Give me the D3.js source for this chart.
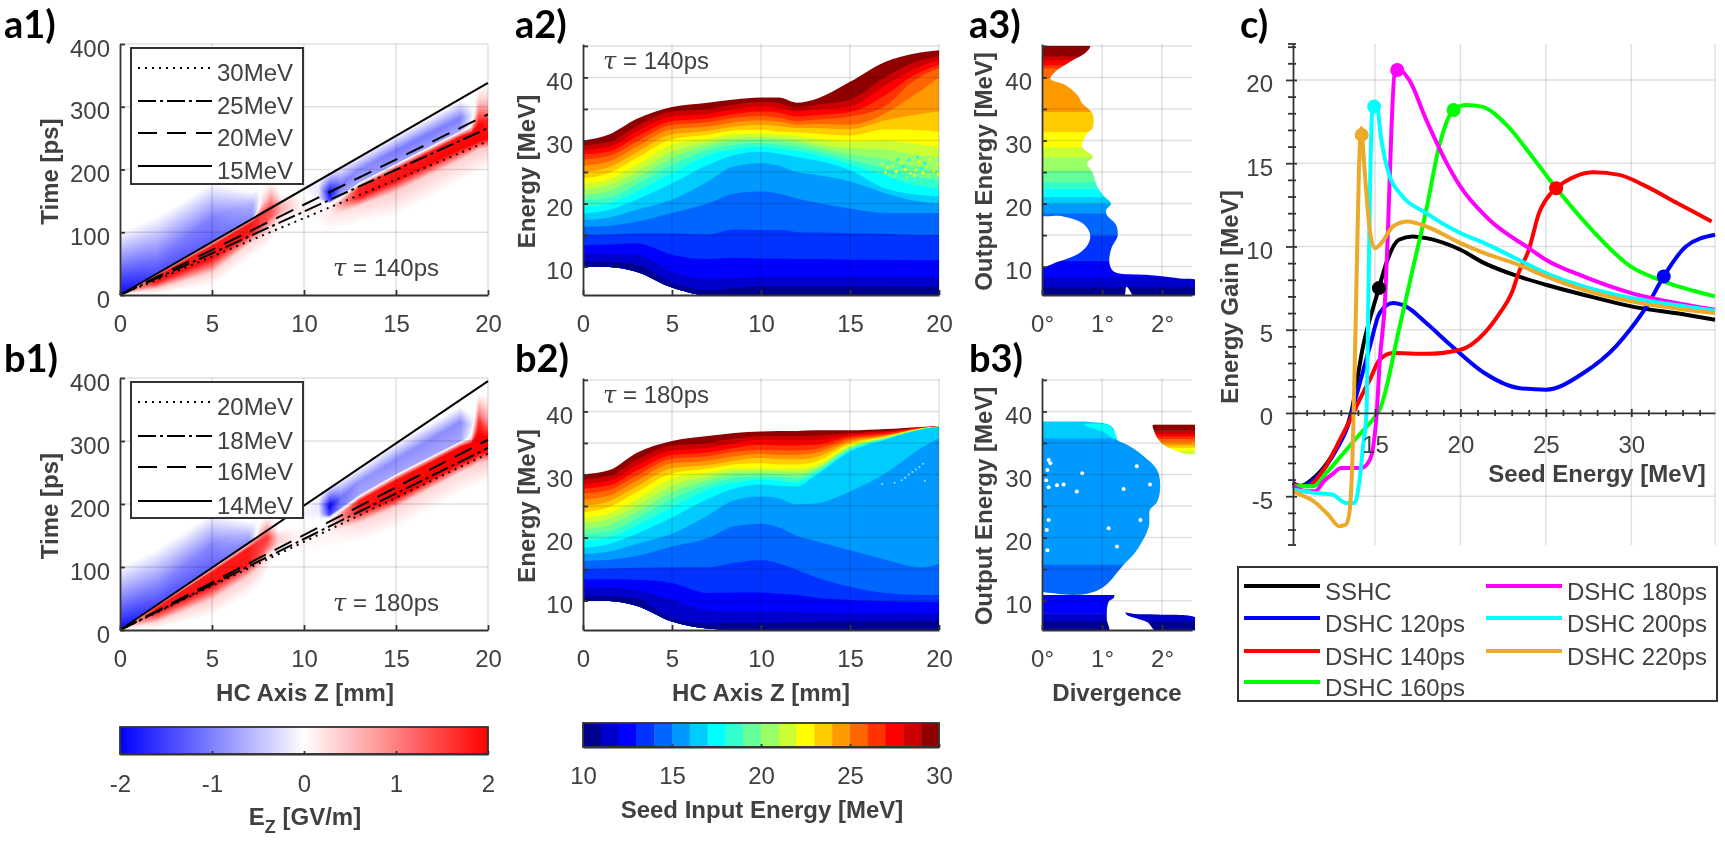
<!DOCTYPE html>
<html>
<head>
<meta charset="utf-8">
<script src="https://cdn.jsdelivr.net/npm/d3@7/dist/d3.min.js"></script>
<style>
  html, body { margin: 0; padding: 0; background: #fff; }
  #stage { position: relative; width: 1725px; height: 850px; overflow: hidden; }
  canvas, svg { position: absolute; left: 0; top: 0; }
  text { font-family: "Liberation Sans", Arial, sans-serif; fill: #404040; }
  .tick text { font-size: 24px; }
  .bold { font-weight: 700; font-size: 24px; text-anchor: middle; }
  .panel { font-family: Lato, sans-serif; font-weight: 700; font-size: 38px; fill: #000; }
  .grid { stroke: #000; stroke-opacity: 0.12; stroke-width: 1.5; }
  .domain, .tick line { stroke: #333; stroke-width: 1.8; }
</style>
</head>
<body>
<div id="stage"></div>
<script>
// Jet-style palette, one colour per 1 MeV of seed input energy
const seedPalette = ["#00008f","#0000cc","#0000ff","#0033ff","#0066ff","#0099ff","#00ccff","#00ffff","#33ffcc","#66ff99",
                     "#99ff66","#ccff33","#ffff00","#ffcc00","#ff9900","#ff6600","#ff3300","#ff0000","#cc0000","#8f0000"];
const seedTicks = [10, 15, 20, 25, 30];
const fieldTicks = [-2, -1, 0, 1, 2];

// Ez field in the (z, t) plane: per column, eight time stops and the field at each stop
const a1Columns = [0,2,5,7.2,7.7,8.2,8.8,9.8,10.8,11.4,12,13,15,18.5,19.1,19.5,20];
const a1Times = [
  [0,0,0,0,0,0.5,30,100],[2,10,20,30,34,35,62,125],[15,35,58,78,85,86,122,178],[60,85,100,116,122,123,145,165],
  [70,95,112,128,135,145,160,175],[85,110,125,140,150,160,172,185],[110,125,135,146,152,158,165,172],[125,135,145,155,165,172,178,184],
  [115,132,140,146,150,155,170,185],[100,125,140,144,146,150,162,195],[105,130,146,150,155,160,175,204],[115,142,155,170,178,180,200,221],
  [125,165,182,200,208,210,230,252],[180,215,233,252,260,262,282,310],[190,225,240,258,266,272,285,305],[195,232,245,270,285,298,310,330],
  [200,235,250,280,292,300,315,335]];
const a1Field = [
  [0,0,0,0,0,-1.9,-1.4,0],[0,.35,1.8,1.8,0,-1.4,-1,0],[0,.3,1.9,1.8,0,-1.2,-1,0],[0,.3,1.8,1.8,.3,-.9,-.6,0],
  [0,.3,1.5,1.5,.9,.3,.1,0],[0,.3,1.3,1.4,1,.6,.2,0],[0,.2,.6,.5,.1,.03,0,0],[0,.1,.08,.02,0,0,0,0],
  [0,.1,.08,.02,0,-.15,-.2,0],[0,.15,.1,0,0,-1.5,-2,-.15],[0,.2,.8,.5,0,-.7,-1.1,-.1],[0,.3,1.8,1.7,0,-.7,-.9,-.05],
  [0,.4,1.9,1.8,0,-.8,-1.05,-.1],[0,.35,2,1.9,0,-.7,-1,0],[0,.4,2,1.9,.5,0,-.2,0],[0,.4,2,2,1.4,.8,.4,0],
  [0,.4,2,1.7,1,.7,.3,0]];
const b1Columns = [0,2,5,7,7.6,8,8.6,9.5,10.8,11.4,12,13,15,18.5,19.1,19.5,20];
const b1Times = [
  [0,0,0,0,0,0.5,25,100],[2,12,27,36,39,41,68,128],[22,48,70,92,98,100,135,185],[55,85,105,130,137,139,155,172],
  [70,100,118,140,148,155,165,178],[95,118,132,146,155,160,172,185],[120,130,140,150,156,160,165,170],[125,135,145,155,165,170,175,180],
  [125,145,155,165,175,185,200,214],[130,150,170,176,178,183,197,228],[135,160,178,185,190,195,210,237],[140,170,187,205,212,215,235,257],
  [160,195,210,237,246,248,270,296],[215,250,265,290,298,300,330,355],[225,258,272,296,304,312,325,345],[230,265,280,310,330,345,362,375],
  [235,268,285,305,322,335,352,372]];
const b1Field = [
  [0,0,0,0,0,-1.9,-1.4,0],[0,.3,1.8,1.8,0,-1.4,-1,0],[0,.35,1.9,1.8,0,-1.2,-.95,0],[0,.35,1.8,1.8,.2,-.9,-.5,0],
  [0,.3,1.4,1.6,1,.4,.1,0],[0,.25,1.2,1.6,1.1,.8,.3,0],[0,.1,.4,.3,.05,0,0,0],[0,.08,.1,.05,0,0,0,0],
  [0,.08,.08,0,0,-.1,-.2,0],[0,.08,.06,0,0,-1.5,-2,-.1],[0,.15,.9,.7,0,-1,-1.1,-.1],[0,.3,1.8,1.8,0,-.7,-.85,0],
  [0,.35,2,1.9,0,-.7,-.9,-.05],[0,.3,2,2,0,-.7,-.9,0],[0,.35,2,2,.3,0,-.25,0],[0,.4,2,2,1.7,1,.4,0],
  [0,.4,2,2,1.2,.7,.3,0]];

// Transit lines of the witness bunch: time reached at z = 20 mm
const a1LineLabels = ["30MeV","25MeV","20MeV","15MeV"];
const a1LineEnds = [245, 266, 288, 338];
const b1LineLabels = ["20MeV","18MeV","16MeV","14MeV"];
const b1LineEnds = [280, 289, 302, 395];
const lineDashes = ["2 5", "18 4 3 4", "19 10", null];

// Output energy of each seed energy (10..30 MeV, one row entry per MeV) along the cell
const a2Z = [0,1.5,3,5,7,8.5,10,11,12,13,15,17,18.5,20];
const a2Energy = [
  [10,10.8,12.1,13.4,15,16.3,17.4,18.4,19.5,20.5,21.3,22.2,23.1,24,25,26,27,27.8,28.5,29.2,30],
  [9.95,10.7,12,13.5,15.1,16.5,17.8,19,20,21,22,23,23.9,24.9,25.8,26.7,27.6,28.3,29,29.8,31],
  [9.2,10.3,11.9,13.7,15.3,17.1,19,20.6,21.9,23,24,25,26.1,27.2,28.1,29,29.8,30.6,31.4,32.3,33.4],
  [6.7,7.4,9.2,11.9,15.3,18.5,20.6,23.2,24.8,26.1,27.2,28.2,29.3,30.2,31,31.8,32.5,33.1,33.8,34.6,35.3],
  [5.5,6.3,8.1,11.2,15.1,20,23.5,26.1,27.6,28.4,29.1,29.7,30.3,30.9,31.5,32.2,32.9,33.5,34.2,35,36],
  [5.5,6.6,8.2,11.4,15.9,21.6,25.9,27.7,28.6,29.3,29.9,30.4,31,31.6,32.2,32.9,33.6,34.2,35,35.7,36.5],
  [5.5,6.9,8.4,11.3,15.8,21.9,26.4,28.2,29,29.6,30.1,30.6,31.1,31.7,32.5,33.2,33.9,34.6,35.4,36.1,36.8],
  [5.5,6.9,8.4,11.3,15.8,21.6,26,27.9,28.7,29.3,29.9,30.4,30.9,31.4,32.3,33,33.6,34.4,35.2,35.9,36.8],
  [5.5,6.9,8.4,11.2,15.5,20.8,25,27.4,28.3,29,29.6,30.1,30.7,31.3,32,32.5,33.1,33.8,34.6,35.2,36],
  [5.5,6.9,8.4,11.2,15.4,20.2,24.6,26.9,27.8,28.4,29,29.5,30.3,31.1,32,32.6,33.3,34,34.9,35.6,36.5],
  [5.5,6.9,8.4,11.1,15.3,19.2,23.5,25.3,26.2,27,27.8,28.8,29.8,30.8,31.8,32.5,33.8,34.5,35.4,36.5,39.3],
  [5.5,6.9,8.4,11.1,15.2,18.5,21.6,22.4,24.4,25.5,27,28.6,30,31.8,33.2,34.3,35.5,37.2,38.8,40.1,42.5],
  [5.5,6.8,8.4,11,15,18.5,20.5,21.5,23,24.5,26,27.8,29.5,31.7,34,37,39.3,40.2,41.2,42.3,43.7],
  [5.5,6.8,8.4,11,15,18.5,20,21.1,22.4,23.5,25.3,27.4,29,31.4,34.6,40,41.5,42,42.8,43.4,44.3]];
const b2Z = [0,1.5,3,5,7,8.5,10,11,12,13,15,17,19,20];
const b2Energy = [
  [10,10.8,12.1,13.4,15,16.3,17.4,18.4,19.5,20.5,21.3,22.2,23.1,24,25,26,27,27.8,28.5,29.2,30],
  [9.95,10.7,12,13.4,15.1,16.5,17.8,19,20,21,22,23,23.9,24.9,25.8,26.7,27.6,28.3,29,29.8,30.7],
  [9.2,10.3,11.7,13.3,15.2,17.1,19,20.6,21.9,23,24,25,26.1,27.2,28.1,29,29.8,30.6,31.4,32.3,33.4],
  [6.7,7.2,10.1,12.8,15.3,18.6,20.6,23.2,24.8,26.1,27.2,28.2,29.3,30.2,31,31.8,32.5,33.1,33.8,34.6,35.3],
  [5.6,6.4,8.5,11.2,15.3,19.9,23.5,26.1,27.6,28.4,29.1,29.7,30.3,30.9,31.5,32.2,32.9,33.5,34.2,35,36.1],
  [5.4,6.5,8.3,11.3,16,21.8,25.9,27.8,28.7,29.4,30,30.5,31,31.6,32.2,32.9,33.6,34.2,35,35.7,36.6],
  [5.4,6.5,8.3,11.3,16.4,22.2,26.5,28.4,29.2,29.7,30.2,30.6,31,31.8,32.6,33.3,33.9,34.7,35.5,36.1,36.8],
  [5.4,6.5,8.3,11.1,15.9,21.6,26.2,28.2,29,29.6,30.1,30.5,30.9,31.6,32.4,33.1,33.8,34.6,35.4,36.1,36.9],
  [5.4,6.6,8.2,10.9,14.9,20.3,25.3,28.1,28.7,29.3,29.9,30.4,30.9,31.6,32.4,33.1,33.8,34.6,35.4,36.1,36.9],
  [5.4,6.6,8.1,10.5,13.8,19.5,25.4,29.7,30,30.3,30.7,31,31.4,32,32.7,33.4,34,34.7,35.4,36.2,37],
  [5.4,6.7,8,10.1,12.2,18,27.3,33.6,33.8,34,34.2,34.4,34.6,34.8,35.1,35.4,35.7,36,36.3,36.6,37],
  [5.4,6.7,8,9.9,11.2,16.5,30.2,35.5,35.6,35.7,35.75,35.8,35.9,36,36.1,36.2,36.3,36.5,36.7,36.9,37.2],
  [5.4,6.8,8,9.8,10.9,15.3,34.2,37.1,37.12,37.15,37.2,37.2,37.25,37.3,37.3,37.35,37.35,37.4,37.4,37.5,37.55],
  [5.4,6.8,8,9.8,10.9,15.8,35.8,37.6,37.6,37.6,37.6,37.6,37.6,37.6,37.6,37.6,37.6,37.6,37.6,37.6,37.6]];

// Isolated macroparticles left behind near the cell exit: z, energy, palette index
const a2Specks = [[16.8,26.2,11],[17.1,25.7,12],[17.4,26,11],[17.6,25.1,12],[17.9,26.4,11],[18.1,25.4,12],[18.4,24.8,11],[18.7,25.3,11],[18.9,26.6,12],
  [19.1,24.9,12],[19.3,25.8,11],[19.5,27,12],[19.7,25.2,12],[19.9,26.2,11],[17.2,24.6,10],[18.2,24.2,10],[19,24,9],[19.6,23.6,7],[17.7,27,7],[18.8,27.4,7],
  [17,25,11],[17.5,24.4,10],[18.3,26.9,7],[18.6,24.4,12],[19.2,26.4,7],[19.4,24.5,11],[19.8,27.6,11],[19.95,24.7,12],[18,25.9,7],[19,25.6,7]];
const b2Specks = [[17.9,29.1],[18.1,29.5],[18.3,30],[18.5,30.4],[18.7,30.8],[18.9,31.2],[19.1,31.7],[16.8,28.5],[17.5,28.7],[19.2,29]];

// Divergence outlines of the output bunch: [degrees, MeV]
const a3Outline = [[-.05,46],[.82,46],[.8,44.8],[.71,43.8],[.47,42.5],[.22,40.9],[.14,39.8],[.39,38.8],[.59,37.2],[.67,35.9],[.84,34.3],[.86,33],[.84,31.9],[.75,31.1],
  [.67,29],[.85,27.4],[.75,26.4],[.85,24.8],[.92,22.7],[1.04,21.1],[1.15,20],[1.07,19],[1.08,18.2],[1.23,16.7],[1.26,14.9],[1.16,13],[1.12,10.9],[1.16,9.6],[1.25,9],
  [1.74,8.7],[2.3,8.1],[2.6,7.7],[2.7,5],[1.57,5],[1.41,6.8],[1.35,5],[-.1,5],[-.1,9.6],[.02,9.8],[.22,10.6],[.6,12],[.77,13.6],[.8,15.2],[.67,16.9],[.34,18],[-.1,18.6]];
const b3Upper = [[-.1,38.2],[.85,38.3],[1.08,38],[1.19,37.3],[1.25,35.5],[1.42,34.7],[1.67,33.1],[1.92,30.7],[1.97,28.1],[1.92,25.7],[1.8,24.4],[1.78,21.7],[1.58,18],
  [1.36,15.7],[1.03,12.2],[.75,11.1],[.25,11.1],[-.1,12.2]];
const b3Lower = [[-.1,10.9],[1.2,10.9],[1.2,10.5],[1.11,9.8],[1.08,7.1],[1.11,5],[-.1,5]];
const b3Tail = [[1.39,8.1],[1.55,7.9],[1.9,7.8],[2.6,7.1],[2.6,5],[1.92,5],[1.75,6.6],[1.42,7.7]];
const b3Cap = [[1.85,37.9],[2.6,37.9],[2.6,33.3],[2.19,33.9],[1.97,35.2],[1.86,37.1]];
const b3CapEdges = [33.3,33.8,34.3,34.7,35.2,35.7,36.1,36.5,37,37.9];
const b3CapColours = [11,12,13,14,15,16,17,18,19];
const b3Sliver = [[.7,37.9],[1.13,37.7],[1.25,35.5],[1,36.8]];
const b3LowerEdges = [5.35,6.8,8,10.9];
const b3Holes = [[.11,32.3],[.14,31.8],[.09,30.7],[.07,29.1],[.11,28],[.25,28.3],[.36,28.4],[.67,30.2],[.11,22.8],[.08,21.2],[.09,18],[1.11,21.5],[1.25,18.6],[1.8,28.4],[1.58,31.3],[.58,27.3],[1.36,27.7],[1.64,22.8]];

// Energy gain against seed energy for each drive configuration
const curveNames = ["SSHC","DSHC 120ps","DSHC 140ps","DSHC 160ps","DSHC 180ps","DSHC 200ps","DSHC 220ps"];
const curveColours = ["#000000","#0000ff","#ff0000","#00ff00","#ff00ff","#00ffff","#ebaa2a"];
const curveSSHC = [[10.2,-4.2],[10.6,-4.4],[11.3,-4],[12.2,-3],[12.8,-2],[13.3,-1],[13.6,0],[14.3,4],[15.23,7.5],[15.66,9],[16.4,10.4],[17.2,10.6],[18,10.5],[20,9.8],[21.4,9],[23.4,8.2],[25,7.7],[27.2,7.1],[30,6.4],[33.2,5.9],[34.9,5.6]];
const curve120 = [[10.2,-4.2],[10.6,-4.4],[11.3,-4.1],[12.2,-3.1],[12.8,-2.1],[13.4,-.8],[13.9,1],[14.7,4],[15.27,6],[16.05,6.6],[16.8,6.4],[18,5.4],[19.4,4.1],[21.4,2.4],[23.4,1.5],[25,1.4],[27.2,2.4],[29.1,4],[30,5.1],[30.9,6.4],[31.9,8.2],[33.2,10],[34.9,10.7]];
const curve140 = [[10.2,-4.3],[11,-4.4],[12,-3.4],[13,-1.5],[13.6,-.3],[14.1,.8],[14.7,2],[15.27,3.2],[16.05,3.6],[18,3.55],[20,3.8],[21.4,4.8],[22.3,6],[23,7.2],[23.4,8.4],[24,9.8],[24.6,12],[25.3,13.2],[25.6,13.5],[26.7,14.2],[27.8,14.45],[29.3,14.3],[30.7,13.7],[32.7,12.6],[34.7,11.5]];
const curve160 = [[10.2,-4.4],[11.4,-4.4],[12.15,-3.6],[13,-2.6],[14,-1.4],[15.15,0],[15.27,.2],[16.4,5],[17.2,8.6],[18,12.2],[18.8,16.2],[19.6,18.2],[20.35,18.5],[21.25,18.4],[22.7,17.3],[23.9,15.8],[25.3,13.9],[27.6,11.1],[29.96,8.8],[31.9,7.9],[34.9,7]];
const curve180 = [[10.2,-4.4],[11,-4.7],[11.5,-4.7],[12,-4.1],[12.6,-3.6],[13,-3.3],[13.5,-3.3],[14.2,-3.3],[14.7,-2.8],[14.9,-2],[15.1,0],[15.27,3],[15.6,7],[15.76,11],[15.96,17],[16.15,20.4],[16.45,20.6],[17,20],[18,17.6],[19,15.4],[20,13.6],[21.3,12],[21.8,11.5],[24,9.9],[25,9.2],[27.2,8.2],[30,7.2],[33.2,6.5],[34.9,6.2]];
const curve200 = [[10.2,-4.6],[11.4,-4.8],[12.5,-4.9],[13.3,-5.4],[13.8,-5.4],[14.1,-4],[14.3,-2],[14.5,0],[14.6,6],[14.7,13],[14.88,18.6],[15.08,18.6],[15.37,16.4],[15.86,14.2],[16.45,13.2],[18,12],[20,10.8],[21.4,10.2],[23.4,9.2],[25,8.4],[27.2,7.6],[30,6.9],[33.2,6.4],[34.9,6.15]];
const curve220 = [[10.2,-4.7],[10.4,-4.8],[11.4,-5.3],[12.25,-6.1],[12.9,-6.8],[13.3,-6.7],[13.5,-6],[13.7,-2],[13.75,0],[13.9,7],[14.06,14.6],[14.2,17.1],[14.36,15],[14.69,11],[14.98,9.9],[15.37,10.2],[16.05,11.2],[16.9,11.5],[18,11.2],[20,10.2],[21.4,9.6],[23.4,8.9],[25,8.2],[27.2,7.4],[30,6.7],[33.2,6.2],[34.9,6]];
const curveSets = [curveSSHC, curve120, curve140, curve160, curve180, curve200, curve220];
const curveMarkers = [[15.23,7.5],[31.9,8.2],[25.6,13.5],[19.6,18.2],[16.3,20.6],[14.95,18.4],[14.22,16.7]];

const stage = d3.select("#stage");
const svg = stage.append("svg").attr("width", 1725).attr("height", 850).style("z-index", 2);

const fieldColour = d3.scaleLinear().domain([-2, 0, 2]).range(["#0000ff", "#ffffff", "#ff0000"]).clamp(true);

function addLabel(text, x, y) {
  svg.append("text").attr("class", "panel").attr("x", x).attr("y", y).text(text);
}
function addBold(text, x, y, rotate) {
  const t = svg.append("text").attr("class", "bold").text(text);
  if (rotate) t.attr("transform", `translate(${x},${y}) rotate(-90)`);
  else t.attr("x", x).attr("y", y);
}
function addTau(value, x, y) {
  const t = svg.append("text").attr("x", x).attr("y", y).style("font-size", "24px");
  t.append("tspan").style("font-family", "'DejaVu Serif', serif").style("font-style", "italic").text("τ");
  t.append("tspan").text(` = ${value}ps`);
}
function gridLines(g, x, y, xVals, yVals) {
  g.selectAll(null).data(xVals).join("line").attr("class", "grid")
    .attr("x1", d => x(d)).attr("x2", d => x(d)).attr("y1", y.range()[0]).attr("y2", y.range()[1]);
  g.selectAll(null).data(yVals).join("line").attr("class", "grid")
    .attr("x1", x.range()[0]).attr("x2", x.range()[1]).attr("y1", d => y(d)).attr("y2", d => y(d));
}
function drawAxes(x, y, xVals, xFmt, yVals, yFmt) {
  svg.append("g").attr("transform", `translate(0,${y.range()[0]})`)
    .call(d3.axisBottom(x).tickValues(xVals).tickFormat(xFmt).tickSizeInner(-5).tickSizeOuter(0).tickPadding(20));
  svg.append("g").attr("transform", `translate(${x.range()[0]},0)`)
    .call(d3.axisLeft(y).tickValues(yVals).tickFormat(yFmt).tickSizeInner(-5).tickSizeOuter(0).tickPadding(10))
    .selectAll("text").attr("dy", "0.5em");
}

// Paints the field mesh: stop positions are blended between neighbouring columns
function paintField(x, y, columns, times, field) {
  const [left, right] = x.range(), [bottom, top] = y.range();
  const w = Math.round(right - left), h = Math.round(bottom - top);
  const canvas = stage.append("canvas").attr("width", w).attr("height", h)
    .style("left", left + "px").style("top", top + "px").node();
  const ctx = canvas.getContext("2d");
  const img = ctx.createImageData(w, h);
  const lut = d3.range(0, 401).map(i => d3.rgb(fieldColour(i / 100 - 2)));
  for (let i = 0; i < w; i++) {
    const z = x.invert(left + i + 0.5);
    const j = Math.min(Math.max(d3.bisectRight(columns, z) - 1, 0), columns.length - 2);
    const u = (z - columns[j]) / (columns[j + 1] - columns[j]);
    const T = times[j].map((v, k) => v + (times[j + 1][k] - v) * u);
    const F = field[j].map((v, k) => v + (field[j + 1][k] - v) * u);
    for (let r = 0; r < h; r++) {
      const t = y.invert(top + r + 0.5);
      let e = 0;
      if (t >= T[0] && t <= T[7]) {
        let s = 0;
        while (s < 6 && t > T[s + 1]) s++;
        const span = T[s + 1] - T[s];
        e = span > 0 ? F[s] + (F[s + 1] - F[s]) * (t - T[s]) / span : F[s + 1];
      }
      const c = lut[Math.max(0, Math.min(400, Math.round((e + 2) * 100)))];
      const p = (r * w + i) * 4;
      img.data[p] = c.r; img.data[p + 1] = c.g; img.data[p + 2] = c.b; img.data[p + 3] = 255;
    }
  }
  ctx.putImageData(img, 0, 0);
}

function fieldPanel(top, bottom, columns, times, field, labels, ends, tau, legendTop, rowYs) {
  const x = d3.scaleLinear().domain([0, 20]).range([120, 488]);
  const y = d3.scaleLinear().domain([0, 400]).range([bottom, top]);
  paintField(x, y, columns, times, field);
  const g = svg.append("g");
  gridLines(g, x, y, [5, 10, 15, 20], [100, 200, 300, 400]);
  const line = d3.line().x(d => x(d[0])).y(d => y(d[1]));
  g.selectAll(null).data(ends).join("path")
    .attr("d", d => line([[0, 0], [20, d]])).attr("fill", "none").attr("stroke", "#000")
    .attr("stroke-width", 2).attr("stroke-dasharray", (d, i) => lineDashes[i]);
  drawAxes(x, y, [0, 5, 10, 15, 20], String, [0, 100, 200, 300, 400], String);
  svg.append("rect").attr("x", 131).attr("y", legendTop).attr("width", 172).attr("height", 136)
    .attr("fill", "#fff").attr("stroke", "#333").attr("stroke-width", 2);
  labels.forEach((label, i) => {
    svg.append("line").attr("x1", 138).attr("x2", 212).attr("y1", rowYs[i]).attr("y2", rowYs[i])
      .attr("stroke", "#000").attr("stroke-width", 2).attr("stroke-dasharray", lineDashes[i]);
    svg.append("text").attr("x", 217).attr("y", rowYs[i] + 13).style("font-size", "24px").text(label);
  });
  addTau(tau, 333, bottom - 19);
  addBold("Time [ps]", 58, (top + bottom) / 2 + 2, true);
}

function seedBands(g, x, y, zs, rows) {
  const area = d3.area().curve(d3.curveMonotoneX).x((d, k) => x(zs[k]));
  // painted from the top band down so neighbouring bands never show a seam
  d3.range(19, -1, -1).forEach(b => {
    g.append("path").attr("fill", seedPalette[b])
      .attr("d", area.y0(r => y(r[0])).y1(r => y(r[b + 1]))(rows));
  });
}

function energyPanel(top, bottom, yMin, zs, rows, tau, tauY) {
  const x = d3.scaleLinear().domain([0, 20]).range([583, 939]);
  const y = d3.scaleLinear().domain([yMin, 45.3]).range([bottom, top]);
  const g = svg.append("g");
  seedBands(g, x, y, zs, rows);
  gridLines(svg.append("g"), x, y, [5, 10, 15, 20], [10, 15, 20, 25, 30, 35, 40, 45]);
  drawAxes(x, y, [0, 5, 10, 15, 20], String, [10, 15, 20, 25, 30, 35, 40, 45], v => v % 10 === 0 && v < 45 ? v : "");
  addTau(tau, 603, tauY);
  addBold("Energy [MeV]", 535, (top + bottom) / 2 + 2, true);
  return { x, y };
}

function divergencePanel(top, bottom, yMin) {
  const x = d3.scaleLinear().domain([0, 2.5]).range([1042, 1192]);
  const y = d3.scaleLinear().domain([yMin, 45.3]).range([bottom, top]);
  return { x, y };
}
function finishDivergence(x, y) {
  gridLines(svg.append("g"), x, y, [1, 2], [10, 15, 20, 25, 30, 35, 40, 45]);
  drawAxes(x, y, [0, 1, 2], v => v + "°", [10, 15, 20, 25, 30, 35, 40, 45], v => v % 10 === 0 && v < 45 ? v : "");
  addBold("Output Energy [MeV]", 992, (y.range()[0] + y.range()[1]) / 2 + 2, true);
}

/* ---- field panels ---- */
fieldPanel(44, 295, a1Columns, a1Times, a1Field, a1LineLabels, a1LineEnds, 140, 48, [68, 101, 133, 166]);
fieldPanel(378, 630, b1Columns, b1Times, b1Field, b1LineLabels, b1LineEnds, 180, 382, [402, 436, 467, 501]);
addBold("HC Axis Z [mm]", 305, 701);

/* ---- Ez colour bar ---- */
const ezScale = d3.scaleLinear().domain([-2, 2]).range([120, 488]);
const defs = svg.append("defs");
const grad = defs.append("linearGradient").attr("id", "ezRamp");
fieldTicks.forEach(v => grad.append("stop").attr("offset", (v + 2) / 4).attr("stop-color", fieldColour(v)));
svg.append("rect").attr("x", 120).attr("y", 727).attr("width", 368).attr("height", 27).attr("fill", "url(#ezRamp)").attr("stroke", "#333").attr("stroke-width", 1.8);
svg.append("g").attr("transform", "translate(0,754)")
  .call(d3.axisBottom(ezScale).tickValues(fieldTicks).tickFormat(String).tickSizeInner(-3).tickSizeOuter(0).tickPadding(21));
const ezTitle = svg.append("text").attr("class", "bold").attr("x", 305).attr("y", 825);
ezTitle.append("tspan").text("E");
ezTitle.append("tspan").attr("dy", 8).style("font-size", "18px").text("Z");
ezTitle.append("tspan").attr("dy", -8).text(" [GV/m]");

/* ---- output energy along the cell ---- */
const a2 = energyPanel(44, 295, 5.5, a2Z, a2Energy, 140, 69);
svg.append("g").selectAll("circle").data(a2Specks).join("circle")
  .attr("cx", d => a2.x(d[0])).attr("cy", d => a2.y(d[1])).attr("r", 1.5).attr("fill", d => seedPalette[d[2]]);
const b2 = energyPanel(378, 630, 5.35, b2Z, b2Energy, 180, 403);
svg.append("g").selectAll("circle").data(b2Specks).join("circle")
  .attr("cx", d => b2.x(d[0])).attr("cy", d => b2.y(d[1])).attr("r", 1).attr("fill", "#99ddff");
addBold("HC Axis Z [mm]", 761, 701);

/* ---- seed energy colour bar ---- */
const seedScale = d3.scaleLinear().domain([10, 30]).range([583, 939]);
svg.append("g").selectAll("rect").data(seedPalette).join("rect")
  .attr("x", (d, i) => seedScale(10 + i)).attr("y", 723)
  .attr("width", (d, i) => seedScale(11 + i) - seedScale(10 + i) + 0.5).attr("height", 24).attr("fill", d => d);
svg.append("rect").attr("x", 583).attr("y", 723).attr("width", 356).attr("height", 24).attr("fill", "none").attr("stroke", "#333").attr("stroke-width", 1.8);
svg.append("g").attr("transform", "translate(0,747)")
  .call(d3.axisBottom(seedScale).tickValues(seedTicks).tickFormat(String).tickSizeInner(-3).tickSizeOuter(0).tickPadding(20));
addBold("Seed Input Energy [MeV]", 762, 818);

/* ---- divergence panels ---- */
const polygon = d3.line().curve(d3.curveCatmullRomClosed.alpha(0.5));
const a3 = divergencePanel(44, 295, 5.5);
defs.append("clipPath").attr("id", "a3Shape").append("path")
  .attr("d", polygon(a3Outline.map(d => [a3.x(d[0]), a3.y(d[1])])));
const a3Exit = a2Energy[a2Energy.length - 1];
svg.append("g").attr("clip-path", "url(#a3Shape)").selectAll("rect").data(seedPalette).join("rect")
  .attr("x", a3.x(0)).attr("width", a3.x(2.55) - a3.x(0))
  .attr("y", (d, i) => i === 19 ? a3.y(45) : a3.y(a3Exit[i + 1]))
  .attr("height", (d, i) => a3.y(a3Exit[i]) - (i === 19 ? a3.y(45) : a3.y(a3Exit[i + 1])) + 0.5)
  .attr("fill", d => d);
finishDivergence(a3.x, a3.y);

const b3 = divergencePanel(378, 630, 5.35);
const b3Exit = b2Energy[b2Energy.length - 1];
const poly = pts => polygon(pts.map(d => [b3.x(d[0]), b3.y(d[1])]));
[["b3Up", b3Upper], ["b3Low", b3Lower], ["b3Tl", b3Tail], ["b3Cp", b3Cap]].forEach(([id, pts]) => {
  defs.append("clipPath").attr("id", id).append("path").attr("d", poly(pts));
});
// Scattered bunch: palette bands follow the exit energies of the same run
const b3Bands = d3.range(0, 7).map(i => ({ lo: b3Exit[i], hi: i === 6 ? 38.4 : b3Exit[i + 1], colour: seedPalette[i] }));
svg.append("g").attr("clip-path", "url(#b3Up)").selectAll("rect").data(b3Bands.slice(4)).join("rect")
  .attr("x", b3.x(0)).attr("width", b3.x(2.55) - b3.x(0))
  .attr("y", d => b3.y(d.hi)).attr("height", d => b3.y(d.lo) - b3.y(d.hi) + 0.5).attr("fill", d => d.colour);
svg.append("g").attr("clip-path", "url(#b3Low)").selectAll("rect").data([0, 1, 2]).join("rect")
  .attr("x", b3.x(0)).attr("width", b3.x(1.3) - b3.x(0))
  .attr("y", d => b3.y(b3LowerEdges[d + 1])).attr("height", d => b3.y(b3LowerEdges[d]) - b3.y(b3LowerEdges[d + 1]) + 0.5)
  .attr("fill", d => seedPalette[d]);
svg.append("g").attr("clip-path", "url(#b3Tl)").selectAll("rect").data([0, 1, 2]).join("rect")
  .attr("x", b3.x(1.3)).attr("width", b3.x(2.55) - b3.x(1.3))
  .attr("y", d => b3.y(b3LowerEdges[d + 1])).attr("height", d => b3.y(b3LowerEdges[d]) - b3.y(b3LowerEdges[d + 1]) + 0.5)
  .attr("fill", d => seedPalette[d]);
svg.append("path").attr("d", poly(b3Sliver)).attr("fill", seedPalette[7]);
svg.append("g").attr("clip-path", "url(#b3Cp)").selectAll("rect").data(b3CapColours).join("rect")
  .attr("x", b3.x(1.8)).attr("width", b3.x(2.55) - b3.x(1.8))
  .attr("y", (d, i) => b3.y(b3CapEdges[i + 1])).attr("height", (d, i) => b3.y(b3CapEdges[i]) - b3.y(b3CapEdges[i + 1]) + 0.5)
  .attr("fill", d => seedPalette[d]);
svg.append("g").selectAll("circle").data(b3Holes).join("circle")
  .attr("cx", d => b3.x(d[0])).attr("cy", d => b3.y(d[1])).attr("r", 2).attr("fill", "#fff");
finishDivergence(b3.x, b3.y);
addBold("Divergence", 1117, 701);

/* ---- energy gain ---- */
const cx = d3.scaleLinear().domain([10.2, 34.9]).range([1293, 1715]);
const cy = d3.scaleLinear().domain([-7.93, 22.16]).range([545, 44]);
gridLines(svg.append("g"), cx, cy, [15, 20, 25, 30, 34.9], [-5, 5, 10, 15, 20]);
const gainLine = d3.line().curve(d3.curveMonotoneX).x(d => cx(d[0])).y(d => cy(d[1]));
curveSets.forEach((pts, i) => {
  svg.append("path").attr("d", gainLine(pts)).attr("fill", "none").attr("stroke", curveColours[i])
    .attr("stroke-width", 4).attr("stroke-linejoin", "round");
});
svg.append("g").selectAll("circle").data(curveMarkers).join("circle")
  .attr("cx", d => cx(d[0])).attr("cy", d => cy(d[1])).attr("r", 7).attr("fill", (d, i) => curveColours[i]);
const xAxisC = svg.append("g").attr("transform", `translate(0,${cy(0)})`)
  .call(d3.axisBottom(cx).tickValues(d3.range(11, 35)).tickFormat(v => v % 5 === 0 && v < 35 ? v : "").tickSizeInner(0).tickSizeOuter(0).tickPadding(23));
xAxisC.selectAll(".tick line").attr("y1", d => d % 5 === 0 ? -4 : -3).attr("y2", d => d % 5 === 0 ? 4 : 3);
const yAxisC = svg.append("g").attr("transform", `translate(${cx.range()[0]},0)`)
  .call(d3.axisLeft(cy).tickValues(d3.range(-7, 23)).tickFormat(v => v % 5 === 0 ? v : "").tickSizeInner(0).tickSizeOuter(0).tickPadding(20));
yAxisC.selectAll(".tick line").attr("x1", d => d % 5 === 0 ? -7 : -5).attr("x2", d => d % 5 === 0 ? 4 : 3);
yAxisC.selectAll("text").attr("dy", "0.5em");
yAxisC.selectAll(null).data([-7.93, 22.16]).join("line").attr("stroke", "#333").attr("stroke-width", 1.8)
  .attr("x1", -5).attr("x2", 3).attr("y1", d => cy(d)).attr("y2", d => cy(d));
addBold("Energy Gain [MeV]", 1238, 297, true);
addBold("Seed Energy [MeV]", 1597, 482);

svg.append("rect").attr("x", 1238).attr("y", 567).attr("width", 479).attr("height", 134)
  .attr("fill", "#fff").attr("stroke", "#333").attr("stroke-width", 2);
const legendRows = [586, 618, 651, 682];
curveNames.forEach((name, i) => {
  const col = i < 4 ? 0 : 1, row = i < 4 ? i : i - 4;
  const x0 = col ? 1486 : 1244;
  svg.append("line").attr("x1", x0).attr("x2", x0 + 76).attr("y1", legendRows[row]).attr("y2", legendRows[row])
    .attr("stroke", curveColours[i]).attr("stroke-width", 4);
  svg.append("text").attr("x", x0 + 81).attr("y", legendRows[row] + 14).style("font-size", "24px").text(name);
});

/* ---- panel letters ---- */
addLabel("a1)", 4, 38); addLabel("b1)", 4, 372);
addLabel("a2)", 515, 38); addLabel("b2)", 515, 372);
addLabel("a3)", 969, 38); addLabel("b3)", 969, 372);
addLabel("c)", 1240, 38);
</script>
</body>
</html>
